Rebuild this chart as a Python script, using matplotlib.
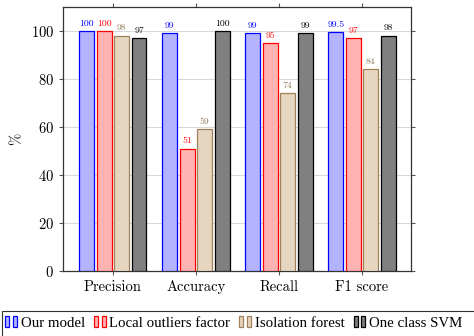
import numpy as np
import matplotlib
matplotlib.use("Agg")
import matplotlib.pyplot as plt
from matplotlib.patches import Rectangle
from matplotlib.legend_handler import HandlerTuple

metrics = ["Precision", "Accuracy", "Recall", "F1 score"]
models = ["Our model", "Local outliers factor", "Isolation forest", "One class SVM"]
our_model = [100, 99, 99, 99.5]
lof = [100, 51, 95, 97]
iso_forest = [98, 59, 74, 84]
oc_svm = [97, 100, 99, 98]

fills = ["#b3b3ff", "#ffb3b3", "#e6d6c0", "#808080"]
edges = ["#0000ff", "#ff0000", "#a0805c", "#000000"]
label_colors = ["#0000ff", "#ff0000", "#8c7356", "#000000"]

plt.rcParams["font.family"] = ["cmr10", "DejaVu Serif"]
plt.rcParams["axes.formatter.use_mathtext"] = True

fig = plt.figure(figsize=(4.74, 3.36), dpi=100)
ax = fig.add_axes([63 / 474, 1 - 271 / 336, 348 / 474, 264 / 336])

x = np.arange(len(metrics))
step = 0.21
width = 0.18
series = [our_model, lof, iso_forest, oc_svm]
for i, vals in enumerate(series):
    pos = x + (i - 1.5) * step
    bars = ax.bar(pos, vals, width, color=fills[i], edgecolor=edges[i],
                  linewidth=0.9, zorder=3)
    ax.bar_label(bars, labels=[f"{v:g}" for v in vals], padding=2.5,
                 color=label_colors[i], fontsize=7)

ax.set_xlim(-0.6, 3.59)
ax.set_ylim(0, 110)
ax.set_xticks(x)
ax.set_xticklabels(metrics, fontsize=10.5)
ax.set_yticks(np.arange(0, 101, 20))
ax.tick_params(axis="y", labelsize=10.5, direction="out", length=3,
               right=True, color="#555555")
ax.tick_params(axis="x", direction="out", length=3, top=True, color="#555555")
ax.grid(axis="y", color="#d0d0d0", linewidth=0.6, zorder=0)
for s in ax.spines.values():
    s.set_linewidth(0.9)
    s.set_color("#333333")
ax.set_ylabel("%", fontsize=10.5, labelpad=5)

handles = []
for f, e in zip(fills, edges):
    r1 = Rectangle((0, 0), 1, 1, facecolor=f, edgecolor=e, linewidth=0.9)
    r2 = Rectangle((0, 0), 1, 1, facecolor=f, edgecolor=e, linewidth=0.9)
    handles.append((r1, r2))

leg = fig.legend(handles, models, ncol=4, loc="center left",
                 bbox_to_anchor=(5 / 474, 1 - 323 / 336),
                 prop={"family": "Liberation Serif", "size": 10.7},
                 handler_map={tuple: HandlerTuple(ndivide=None, pad=0.25)},
                 handlelength=0.8, handleheight=0.8, handletextpad=0.25,
                 columnspacing=0.6, borderpad=0, borderaxespad=0,
                 frameon=False)

# legend box, cropped by the figure edge at right and bottom
fig.add_artist(Rectangle((2 / 474, -0.1), 1.2, 0.1 + 1 - 311 / 336,
                         transform=fig.transFigure, fill=False,
                         edgecolor="#333333", linewidth=0.8))

fig.savefig("out.png", dpi=100)
